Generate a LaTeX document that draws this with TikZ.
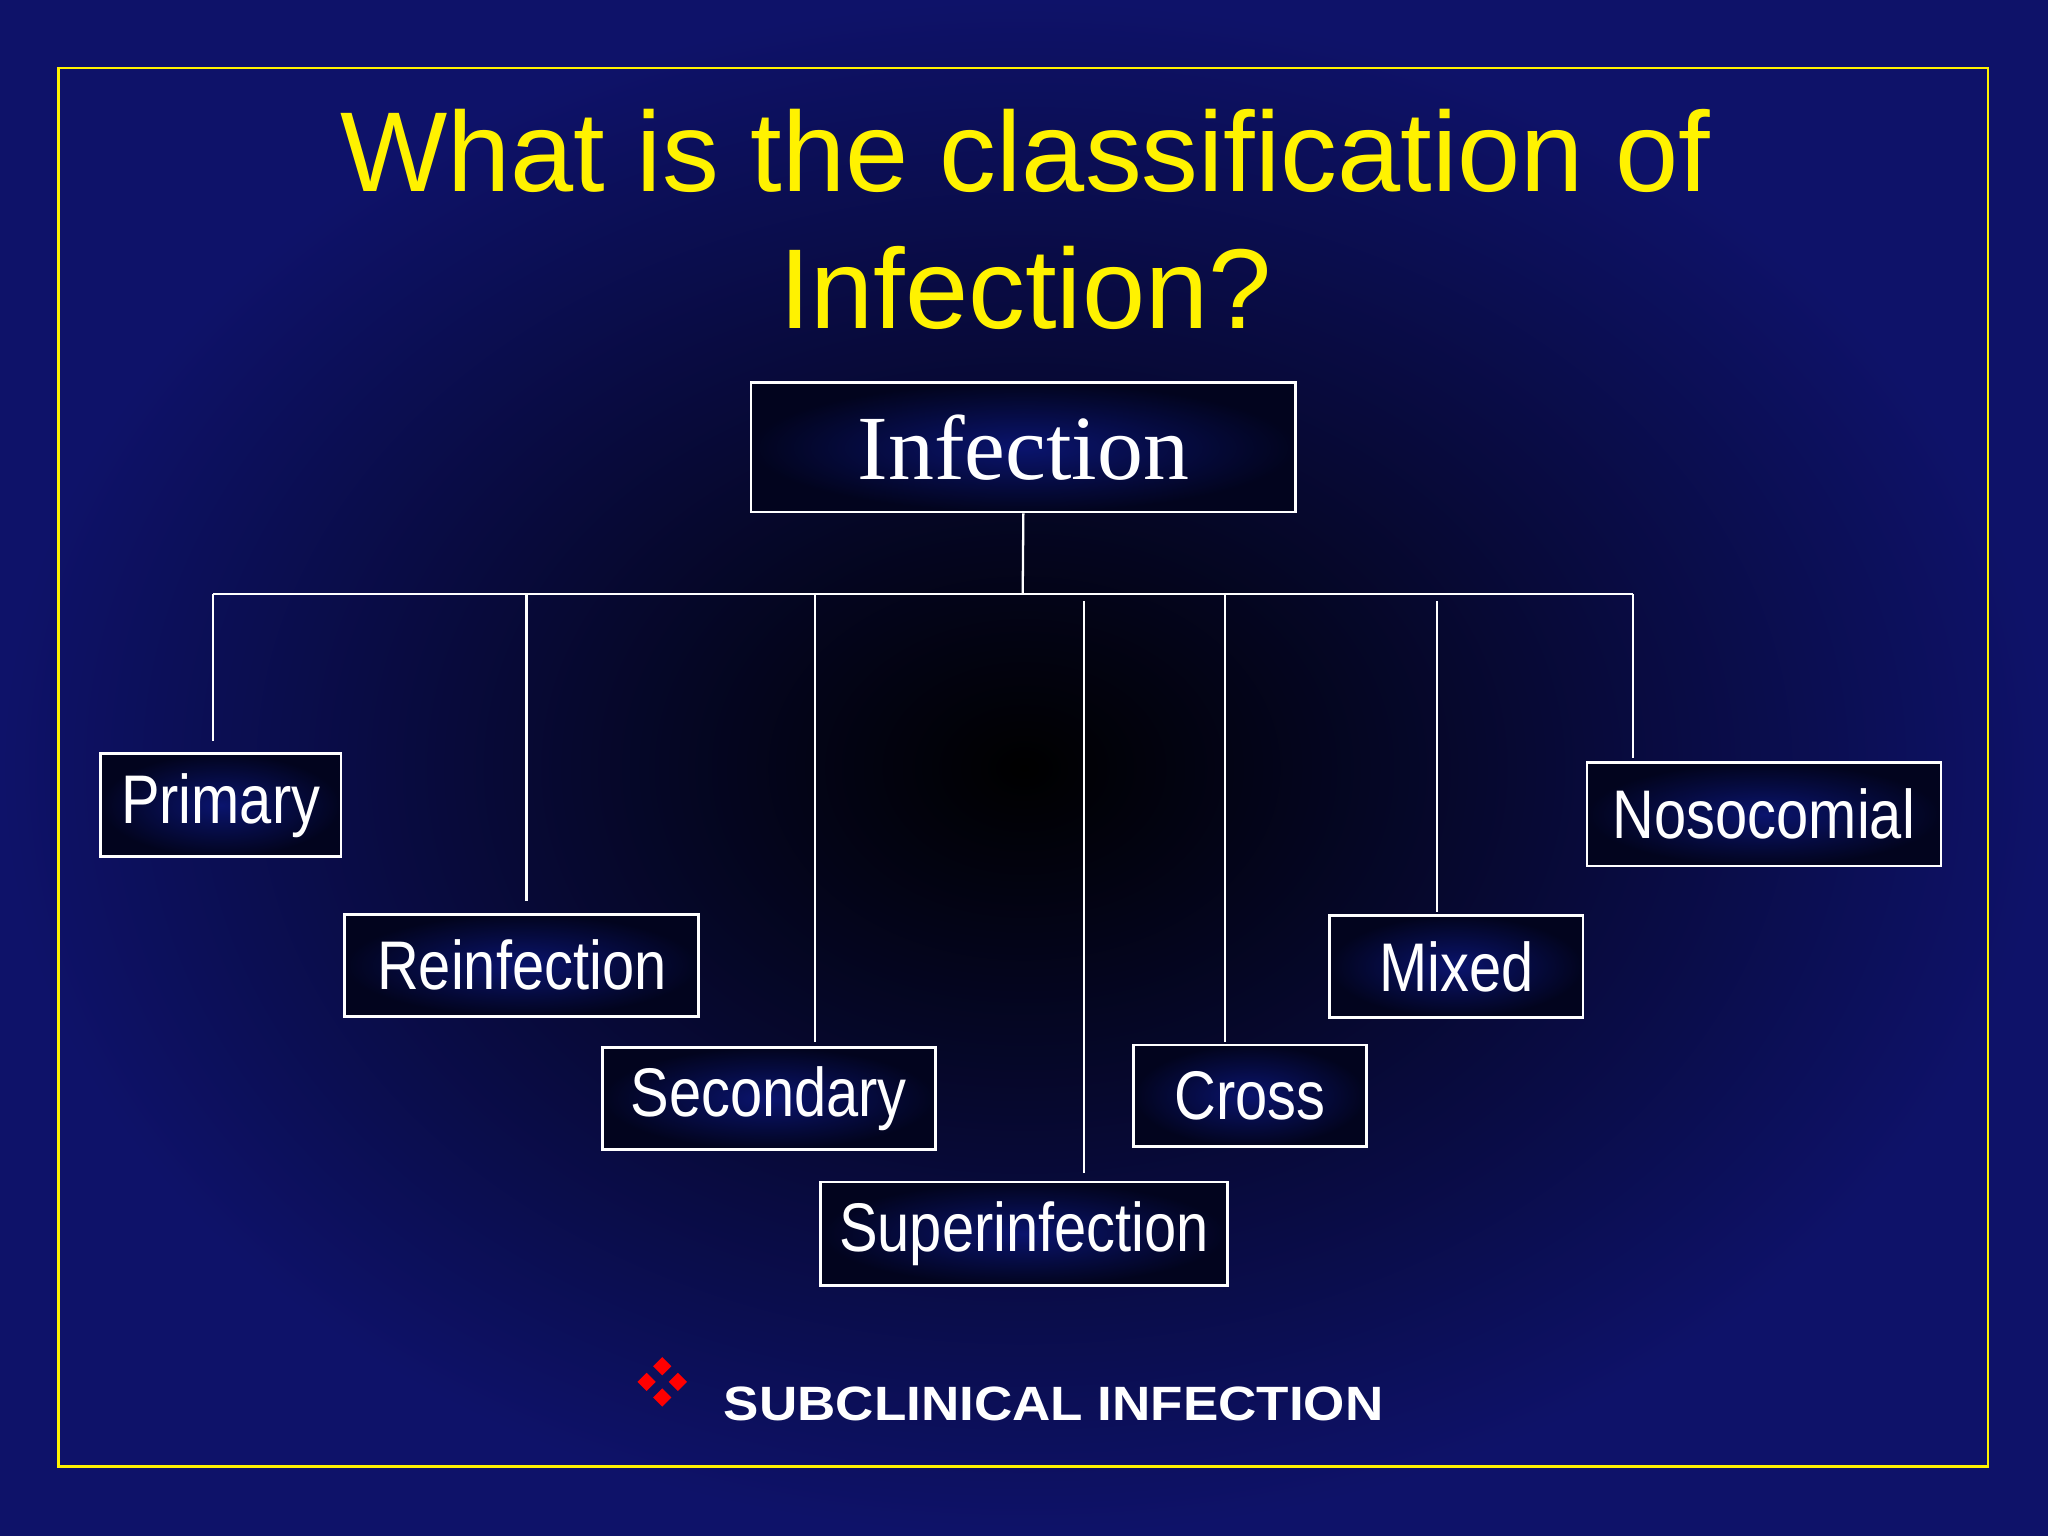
\documentclass[tikz,border=0pt]{standalone}
\usepackage{fontspec}
\setmainfont{Liberation Sans}
\newfontfamily\narrowfont[FakeStretch=0.84]{Liberation Sans}
\newfontfamily\seriffont{Liberation Serif}
\newfontfamily\widefont[FakeStretch=1.1]{Liberation Sans}
\begin{document}
\begin{tikzpicture}[x=0.02cm,y=-0.02cm,
  cbox/.style={draw=white,line width=1.2pt,inner color={rgb,255:red,10;green,20;blue,110},outer color={rgb,255:red,2;green,4;blue,30},text=white,font=\narrowfont\fontsize{30}{34}\selectfont,inner sep=0pt},
  link/.style={draw=white,line width=1pt}]
\useasboundingbox (0,0) rectangle (1568,1176);
\shade[inner color=black,outer color={rgb,255:red,14;green,18;blue,105}] (0,0) rectangle (1568,1176);
\draw[yellow,line width=1.2pt] (45,52) rectangle (1522,1123);
\node[text=yellow,font=\fontsize{49.5}{60}\selectfont,align=center] (title) at (785,168) {What is the classification of\\Infection?};
\node[cbox,minimum width=417*0.02cm,minimum height=99*0.02cm,font=\seriffont\fontsize{40}{44}\selectfont] (inf) at (783.5,342.5) {\raisebox{-3pt}{Infection}};
\node[cbox,minimum width=184*0.02cm,minimum height=79*0.02cm] (pri) at (169,616.5) {\raisebox{-4pt}{Primary}};
\node[cbox,minimum width=271*0.02cm,minimum height=78*0.02cm] (rei) at (399.5,739) {\raisebox{-3pt}{Reinfection}};
\node[cbox,minimum width=255*0.02cm,minimum height=78*0.02cm] (sec) at (588.5,841) {\raisebox{-4pt}{Secondary}};
\node[cbox,minimum width=312*0.02cm,minimum height=79*0.02cm] (sup) at (784,944.5) {\raisebox{-4pt}{Superinfection}};
\node[cbox,minimum width=178*0.02cm,minimum height=78*0.02cm] (cro) at (957,839) {\raisebox{-3pt}{Cross}};
\node[cbox,minimum width=194*0.02cm,minimum height=78*0.02cm] (mix) at (1115,740) {\raisebox{-3pt}{Mixed}};
\node[cbox,minimum width=271*0.02cm,minimum height=79*0.02cm] (nos) at (1350.5,623.5) {\raisebox{-3pt}{Nosocomial}};
\coordinate (j) at (783,455);
\coordinate (hl) at (163,455);
\coordinate (hr) at (1250,455);
\draw[link] (inf.south) -- (j);
\draw[link] (hl) -- (hr);
\draw[link] (hl) -- (163,567);
\draw[link] (403,455) -- (403,690);
\draw[link] (624,455) -- (624,798);
\draw[link] (830,460) -- (830,898);
\draw[link] (938,455) -- (938,798);
\draw[link] (1100,460) -- (1100,698);
\draw[link] (hr) -- (1250,580);
\foreach \p in {(507,1046),(495,1058),(519,1058),(507,1070)}
  \fill[red] \p ++(0,-7) -- ++(7,7) -- ++(-7,7) -- ++(-7,-7) -- cycle;
\node[text=white,font=\widefont\bfseries\fontsize{21}{24}\selectfont,anchor=west] (sub) at (548,1075) {SUBCLINICAL INFECTION};
\end{tikzpicture}
\end{document}
